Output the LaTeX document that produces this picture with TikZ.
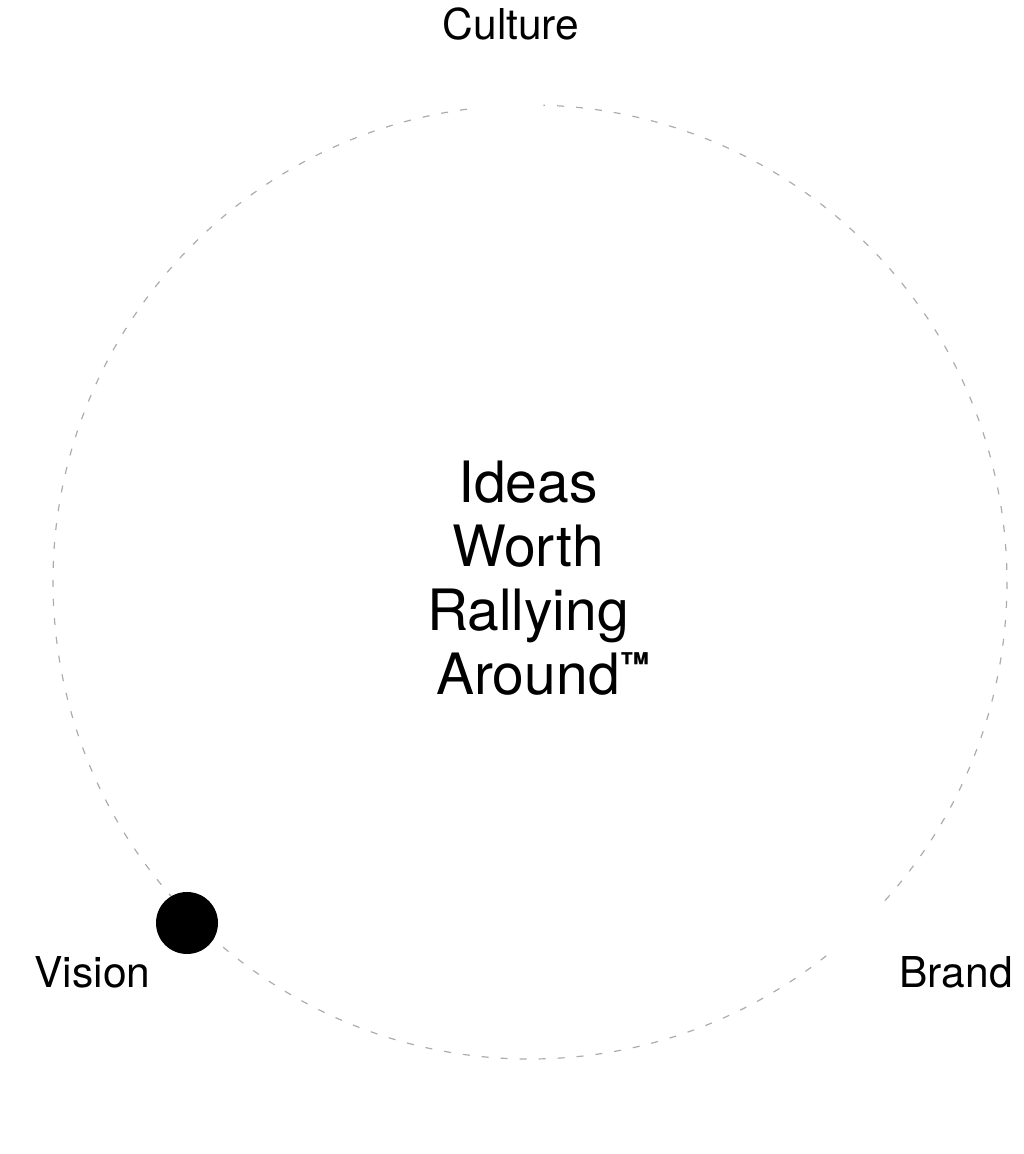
\documentclass[tikz,border=0pt]{standalone}
\usepackage{fontspec}
\setmainfont{TeX Gyre Heros}
\usetikzlibrary{positioning}
\tikzstyle{corner}=[inner sep=0pt, anchor=base, font=\fontsize{42.5}{50}\selectfont]
\tikzstyle{core}=[inner sep=0pt, align=center, font=\fontsize{57}{64}\selectfont]
\tikzstyle{ring}=[draw=gray!65, line width=1.2pt, dash pattern=on 7pt off 12pt]
\tikzstyle{dot}=[circle, fill=black, minimum size=62pt, inner sep=0pt]

\begin{document}
\begin{tikzpicture}[x=1pt,y=1pt]
				\useasboundingbox (0,0) rectangle (1024,1154);
				\coordinate (O) at (530,572);
				\node[corner] (culture) at (511,1114) {Culture};
				\node[corner] (vision) at (92.5,166) {Vision};
				\node[corner] (brand) at (956,166) {Brand};
				\node[core] (ideas) at (528,576) {Ideas\\Worth\\Rallying\\Around\rlap{\raisebox{20pt}{\fontsize{30}{30}\selectfont\bfseries ™}}};
				
				\draw[ring] ([shift={(97.6:477)}]O) arc[start angle=97.6, end angle=308.8, radius=477];
				\draw[ring] ([shift={(318.1:477)}]O) arc[start angle=318.1, end angle=448.4, radius=477];
				\node[dot] (visiondot) at (187,231) {};
			\end{tikzpicture}
\end{document}
